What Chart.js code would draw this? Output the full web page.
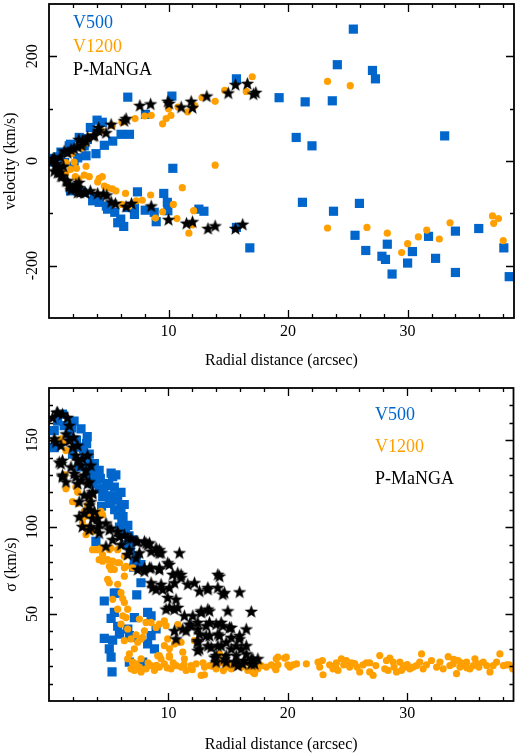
<!DOCTYPE html>
<html>
<head>
<meta charset="utf-8">
<script src="https://cdn.jsdelivr.net/npm/chart.js@4.4.0/dist/chart.umd.min.js"></script>
<style>
  html, body { margin: 0; padding: 0; background: #fff; overflow: hidden; }
  #wrap { position: relative; width: 515px; height: 754px; }
  canvas { position: absolute; left: 0; }
  #velChart { top: 0; }
  #sigChart { top: 376px; }
</style>
</head>
<body>
<div id="wrap">
  <canvas id="velChart" width="515" height="376"></canvas>
  <canvas id="sigChart" width="515" height="378"></canvas>
</div>
<script>
/* ===== DATA ===== */

const seriesNames = ['V500', 'V1200', 'P-MaNGA'];

const xRange = [0, 38.9];
const xTickLabels = [10, 20, 30];
const xMinorTicks = [2, 4, 6, 8, 12, 14, 16, 18, 22, 24, 26, 28, 32, 34, 36, 38];

const velRange = [-300, 300];
const velTickLabels = [-200, 0, 200];
const velMinorTicks = [-100, 100];

const sigRange = [0, 180];
const sigTickLabels = [50, 100, 150];
const sigMinorTicks = [10, 20, 30, 40, 60, 70, 80, 90, 110, 120, 130, 140, 160, 170];

// velocity panel: [radius, velocity]
const velV500 = [
  [0.2,-2],[0.44,5],[0.7,8],[1.0,17],[1.3,-3],[1.69,29],[1.8,32],[2.1,-10],[2.4,6],[2.53,45],
  [2.7,43],[2.95,29],[3.1,10],[3.2,41],[3.46,64],[3.93,14],[4.02,78],[4.46,74],[4.63,30],[5.33,38],
  [6.03,51],[6.73,51],[6.59,122],[8.07,89],[10.28,124],[10.36,-14],[15.68,157],
  [1.8,-57],[2.5,-57],[2.8,-60],[3.65,-76],[3.8,-70],[4.2,-79],[4.8,-86],[4.9,-92],[5.5,-98],
  [5.75,-118],[6.0,-111],[6.25,-125],[6.6,-89],[7.15,-86],[7.15,-102],[7.4,-59],[8.05,-94],[8.8,-98],
  [8.97,-116],[9.6,-62],[9.9,-79],[9.94,-95],[12.54,-92],[12.96,-96],[15.68,-127],[16.8,-166],
  [19.25,121],[20.68,45],[21.43,113],[22.0,29],[23.7,115],[24.12,184],[25.46,252],[27.06,173],
  [27.31,157],[33.1,48],
  [21.2,-79],[23.8,-96],[25.97,-81],[25.6,-142],[26.5,-171],[27.85,-182],[28.15,-188],[28.3,-159],
  [28.7,-216],[30.0,-195],[30.4,-173],[31.75,-144],[32.34,-186],[34.0,-134],[34.0,-213],[35.95,-129],
  [38.05,-166],[38.5,-221]
];

const velV1200 = [
  [1.4,-3],[1.9,14],[2.1,-2],[2.3,-14],[2.7,25],[3.1,35],[3.4,46],[4.35,58],[5.3,68],[6.1,74],
  [7.2,81],[8.0,86],[8.55,87],[9.5,71],[9.8,81],[10.0,100],[10.2,87],[10.8,103],[11.6,94],[12.2,106],
  [12.8,121],[13.9,114],[14.7,135],[16.5,133],[17.0,161],[13.9,-8],[23.3,152],[25.2,144],
  [1.8,-16],[3.1,-10],[1.4,-23],[2.2,-30],[2.5,-34],[2.95,-27],[3.37,-30],[4.07,-40],[4.2,-33],
  [4.46,-30],[4.63,-48],[4.9,-51],[5.3,-53],[5.6,-57],[6.4,-62],[6.1,-83],[6.7,-86],[7.3,-76],
  [7.8,-75],[8.5,-65],[8.9,-109],[9.5,-97],[10.4,-83],[10.7,-110],[11.15,-51],[12.1,-95],[12.0,-122],
  [11.7,-138],
  [23.3,-128],[26.6,-127],[28.3,-138],[29.5,-175],[30.0,-158],[30.9,-145],[31.6,-132],[32.65,-149],
  [33.55,-118],[37.1,-105],[37.2,-119],[37.6,-110],[38.0,-152]
];

const velPManga = [
  [0.3,3],[0.44,5],[0.94,8],[1.27,19],[1.55,16],[1.84,22],[2.1,24],[2.4,27],[2.5,41],[2.75,30],
  [2.8,38],[3.1,38],[3.23,46],[3.7,48],[3.8,49],[4.15,58],[4.15,64],[4.77,54],[5.2,70],[6.3,77],
  [6.45,81],[7.6,106],[8.5,109],[9.94,114],[10.05,110],[11.06,103],[11.9,114],[12.0,102],[13.2,124],
  [15.0,130],[15.6,146],[16.6,148],[17.1,128],[17.3,131],
  [0.2,0],[0.6,-5],[0.9,-15],[1.2,-10],[0.58,-10],[0.72,-22],[0.44,-19],[0.86,-22],[1.0,-29],
  [1.13,-29],[1.42,-38],[1.55,-38],[1.7,-46],[1.7,-48],[2.25,-44],[2.25,-51],[2.5,-41],[2.5,-51],
  [1.84,-55],[2.4,-60],[2.6,-60],[2.95,-60],[3.04,-60],[3.46,-57],[4.07,-62],[4.55,-63],[4.83,-65],
  [5.2,-78],[5.55,-81],[6.45,-87],[6.9,-81],[8.55,-86],[10.0,-112],[11.5,-119],[12.0,-116],
  [13.3,-129],[13.9,-124],[15.6,-129],[16.2,-121]
];

// dispersion panel: [radius, sigma]
const sigV500 = [
  [0.44,155.5],[0.44,145.7],[0.72,161],[1.13,165],[1.27,158.4],[1.7,152.7],[1.97,142],[2.1,161],
  [2.53,134.6],[2.68,156.5],[3.0,140],[3.15,148],[3.37,142],[3.5,128],[3.6,131],[3.8,136.5],
  [4.0,127],[4.2,132.7],[4.2,122],[4.5,117.5],[4.77,125],[5.05,113.7],[5.2,131],[5.33,129],
  [5.47,123],[5.6,118],[5.6,130],[5.75,115.6],[5.9,100],[6.03,110.8],[6.03,120],[6.2,106],
  [6.3,113],[6.4,96],[6.6,101],[6.5,90],[6.8,88],[7.0,92.7],[7.1,77],[7.3,83],[7.15,80],[7.7,78.5],
  [2.3,150],[2.9,145],[3.3,136],[3.9,131],[4.3,128],[4.6,120],[4.9,118],[5.2,115],[5.5,110],
  [5.8,107],[6.1,103],[6.7,95],[5.0,124],[4.4,112],[3.6,125],[2.6,146],[3.2,152],[1.9,157],
  [3.93,91.8],[7.7,68],[5.47,62],[5.6,62],[7.35,61],[4.63,57.5],[5.47,51],[5.2,47.5],[5.75,43],
  [5.9,38.5],[6.6,41.4],[6.73,37.6],[7.15,48],[8.26,51],[8.55,49],[8.97,41.4],[8.55,37.6],
  [8.26,32.8],[8.83,30],[7.0,36.6],[4.63,36],[5.33,35],[5.05,30],[5.2,25.2],[6.73,22.4],
  [7.85,22.4],[5.28,16.7]
];

const sigV1200 = [
  [1.0,150.8],[1.27,148.9],[1.42,144],[1.33,130],[1.42,122],[2.25,123],[2.4,120],[1.97,114.6],
  [2.4,113.7],[2.95,109],[3.23,107],[3.23,112.7],[2.8,103],[3.1,99.4],[3.65,97.5],[3.1,95.6],
  [3.37,117.5],[2.95,106],[3.23,100],[3.93,106],[4.2,108],[4.35,109],[4.49,107],[3.65,87],
  [3.93,87],[4.2,87],[4.35,88],[4.49,84],[5.05,87],[5.19,88],[5.75,87],[4.49,80.4],[5.33,80.4],
  [5.75,79.5],[6.45,77.5],[4.49,81.3],[5.19,78.5],[5.47,75.6],[6.31,83.2],[7.0,76.6],[4.2,81.3],
  [5.05,77.5],[5.9,79.5],[6.31,76.6],[4.91,69.9],[5.05,68],[5.75,67.1],[6.31,71.8],[6.03,62.3],
  [6.17,58.9],[6.31,56.6],[5.33,58.5],[5.75,52.8],[6.59,52.8],[6.17,49],[6.45,48],[6.03,44.2],
  [6.59,41.4],[6.31,34.7],[6.87,35.7],[7.29,38],[7.43,33.8],[7.15,30],[7.85,36.6],[7.99,40.4],
  [8.13,45.2],[7.57,47.1],[8.55,45.2],[8.97,42.3],[9.24,44.2],[9.66,46.1],[9.8,43.3],[9.94,35.7],
  [9.66,31.8],[10.08,30],[10.78,33.8],[11.06,33.8],[11.2,28.1],[11.34,24.3],[10.08,26.1],[9.24,26.1],
  [9.38,24.3],[6.73,27.1],[7.29,21.4],[6.59,24.3],[7.71,24.3],[12.18,34.7],[10.78,44],[9.1,26],
  [10.08,25.2],[14.28,27.1],[7.71,35.7],[10.5,32.8],[7.0,22.4],[7.57,19.5],[7.15,17.6],[13.02,15.1],
  [17.07,16.7],[4.91,81.3],[5.19,75.6],
  [6.87,18.5],[7.29,20.4],[7.71,16.7],[8.13,18.5],[8.55,20.4],[8.83,17.6],[9.24,19.5],[9.66,21.4],
  [10.22,18.5],[10.65,20.4],[11.07,19.5],[11.48,17.6],[11.9,20.4],[12.32,21.4],[12.74,14.7],
  [13.02,19.5],[13.44,20.4],[14.0,18.5],[14.42,22.0],[14.84,19.5],[15.26,18.5],[15.68,20.4],
  [16.1,19.5],[16.65,17.6],[17.21,15.7],[17.77,20.4],[18.2,19.5],[18.62,20.8],[7.0,22],[7.5,19],
  [8.3,22],[9.0,20.5],[9.9,19],[10.4,22],[11.3,21],[12.0,18],[12.9,22],[13.7,20],[14.6,17.5],
  [15.0,21],[16.3,21.5],[17.0,20],[17.5,18.5],
  [18.89,19.5],[19.17,20.8],[19.0,18.0],[19.03,24.3],[19.17,25.2],[19.73,24.7],[19.87,25.2],
  [20.0,20.8],[20.17,19.5],[20.45,20.8],[20.73,21.4],[21.55,21.4],[22.53,22.4],[22.67,19.5],
  [22.95,15.1],[22.89,23.3],[23.5,20.8],[23.78,18.5],[24.07,22.0],[24.2,17.6],[24.49,24.3],
  [24.68,20.8],[24.9,23.3],[25.18,19.5],[25.32,22.0],[25.8,19.5],[26.02,16.7],[26.3,20.8],
  [26.58,22.0],[26.86,16.7],[26.86,22.0],[27.14,14.7],[27.37,20.4],[27.7,26.1],[28.12,18.5],
  [28.26,23.3],[28.4,17.6],[28.54,24.7],[28.82,22.4],[29.1,16.7],[29.38,22.4],[29.52,17.6],
  [29.66,20.4],[29.94,19.5],[30.22,18.5],[30.5,19.5],[30.78,20.4],[31.05,22.4],[31.2,27.1],
  [31.33,18.5],[31.61,20.8],[32.03,23.3],[32.46,19.5],[32.74,22.4],[33.01,18.5],[33.43,25.5],
  [33.57,20.4],[33.85,21.4],[34.13,15.7],[34.27,23.3],[34.41,19.5],[34.69,20.4],[34.97,22.4],
  [35.25,18.5],[35.53,20.4],[35.67,24.3],[35.94,21.4],[36.37,22.4],[36.65,20.4],[36.93,16.7],
  [37.2,20.4],[37.48,22.4],[37.76,27.1],[38.05,20.4],[38.33,20.8],[38.55,20.8],[38.83,18.5],
  [30.0,21.0],[34.5,22],[35.0,19.0],[33.9,24.0],[28.9,19.5],[25.6,21.5],[24.0,19.5],[36.0,19.5]
];

const sigPManga = [
  [0.72,166],[0.3,163],[1.13,165],[1.55,163],[1.7,158.4],[1.42,153.6],[1.7,149.8],[0.58,148.9],
  [1.0,147],[1.97,146],[1.13,138.4],[1.0,136.5],[1.84,134.6],[2.4,138.4],[2.8,139.4],[3.1,132.7],
  [1.13,128.9],[1.42,126],[2.25,128.9],[2.68,127],[3.23,125],[3.65,119.4],[2.53,114.6],[3.5,114.6],
  [3.37,109.9],[2.53,106],[2.95,108],[2.8,100.3],[3.65,105],[4.2,102],[3.37,98.5],[4.2,96.6],
  [5.05,98.5],[5.9,94.6],[6.59,93.7],[7.29,91.8],[8.13,90.8],[8.97,88],[9.24,85.2],[10.92,85.2],
  [9.94,79.5],[6.73,87],[7.57,85.2],[5.33,92.8],[4.77,89],
  [0.66,166],[2.06,151.7],[0.44,150.8],[2.4,147],[2.25,141.3],[3.23,141.3],[0.86,137.4],[2.68,135.6],
  [3.5,135.6],[1.13,129.9],[2.11,130.8],[2.95,129.9],[2.4,125],[3.37,126],[2.95,118.4],[3.37,118.4],
  [3.65,120.3],[3.37,112.7],[3.8,108.9],[4.07,105],[3.5,100.3],[4.07,99.4],[4.77,102.3],[5.19,99.4],
  [5.75,97.5],[6.31,95.6],[6.87,93.7],[7.43,91.8],[7.99,91.8],[8.27,89.9],[8.55,86.1],[9.1,86.1],
  [6.03,89.9],[6.59,84.2],[7.29,82.3],[7.99,76.6],[8.55,76.6],[9.24,76.6],
  [8.41,90.9],[9.24,87],[9.39,85.2],[10.08,78.5],[7.99,74.7],[8.41,76.6],[9.24,75.6],[10.36,72.8],
  [10.78,73.7],[11.06,70.9],[11.62,67.1],[12.18,68],[13.3,65.2],[14.14,65.2],[14.28,71.8],[14.56,61.4],
  [15.96,62.7],[8.68,65.2],[9.52,64.2],[9.94,59.5],[10.64,58.5],[10.08,53.8],[10.78,53.8],[12.74,51.8],
  [13.3,52.8],[14.98,51.8],[16.94,51.5],[12.04,49],[11.2,41.4],[11.76,44.2],[12.46,45.2],[13.16,43.3],
  [14.0,44.2],[14.56,43.3],[15.12,42.3],[15.96,37.6],[16.52,41.4],[12.6,38.5],[13.44,37.6],[14.28,37.6],
  [12.46,33.8],[13.3,31.8],[14.14,31.8],[14.84,33.8],[15.68,31.8],[16.52,31.8],[12.46,29],[14.0,26.1],
  [14.84,26.1],[15.68,26.1],[16.52,27.1],[14.0,22.4],[14.84,22.4],[15.68,22.4],[16.23,21.4],[17.07,24.3],
  [17.21,21.4],[10.64,35.7],
  [7.43,75.6],[8.55,68],[8.97,64.2],[9.39,67.1],[10.08,65.2],[10.5,68],[11.06,72.8],[12.6,63.2],
  [13.3,64.2],[14.14,72.8],[14.7,62.3],[9.8,52.8],[10.5,52.8],[11.34,49],[12.74,50.9],[13.44,51.8],
  [11.9,43.3],[10.5,40.4],[11.48,40.4],[12.46,41.4],[13.44,45.2],[14.42,45.2],[15.26,42.3],[12.46,34.7],
  [13.16,37.6],[14.14,38.5],[15.26,36.6],[15.96,35.7],[12.6,30],[13.58,30.9],[14.42,31.8],[15.26,30],
  [16.1,30],[13.86,25.2],[14.7,24.3],[15.54,22.4],[16.38,23.3],[16.94,24.3],[17.49,24.3],[15.82,20.4],
  [16.94,21.4]
];

/* ===== STYLE ===== */

const FONT = '"Liberation Serif", "DejaVu Serif", serif';
const BLUE = '#0066cc';
const ORANGE = '#ffa000';

Chart.defaults.font.family = FONT;
Chart.defaults.font.size = 16;
Chart.defaults.color = '#000';

// filled five-point star used as marker
const starImg = document.createElement('canvas');
starImg.width = 15;
starImg.height = 15;
(function() {
  const c = starImg.getContext('2d');
  c.beginPath();
  for (let i = 0; i < 10; i++) {
    const r = i % 2 === 0 ? 6.6 : 2.8;
    const a = -Math.PI / 2 + i * Math.PI / 5;
    const px = 7.5 + r * Math.cos(a);
    const py = 8 + r * Math.sin(a);
    if (i === 0) c.moveTo(px, py); else c.lineTo(px, py);
  }
  c.closePath();
  c.fillStyle = '#000';
  c.fill();
  c.strokeStyle = 'rgba(0,0,0,0.35)';
  c.lineWidth = 1;
  c.stroke();
})();

const toPts = arr => arr.map(([x, y]) => ({ x, y }));

// frame, inward ticks on all four sides, and the text legend
const framePlugin = {
  id: 'frame',
  afterDraw(chart, args, opts) {
    const { ctx, chartArea: a, scales: { x, y } } = chart;
    ctx.save();
    ctx.strokeStyle = '#000';
    ctx.lineWidth = 1.3;
    const xTick = (v, len) => {
      const p = Math.round(x.getPixelForValue(v)) + 0.5;
      ctx.moveTo(p, a.bottom); ctx.lineTo(p, a.bottom - len);
      ctx.moveTo(p, a.top); ctx.lineTo(p, a.top + len);
    };
    const yTick = (v, len) => {
      const p = Math.round(y.getPixelForValue(v)) + 0.5;
      ctx.moveTo(a.left, p); ctx.lineTo(a.left + len, p);
      ctx.moveTo(a.right, p); ctx.lineTo(a.right - len, p);
    };
    ctx.beginPath();
    xTickLabels.forEach(v => xTick(v, 8));
    xMinorTicks.forEach(v => xTick(v, 4));
    opts.yMajor.forEach(v => yTick(v, 8));
    opts.yMinor.forEach(v => yTick(v, 4));
    ctx.stroke();

    ctx.lineWidth = 1.8;
    ctx.strokeRect(a.left, a.top, a.right - a.left, a.bottom - a.top);

    ctx.font = '18px ' + FONT;
    ctx.textBaseline = 'alphabetic';
    ctx.textAlign = 'left';
    const order = [2, 1, 0];
    order.forEach((di, i) => {
      const ds = chart.data.datasets[di];
      ctx.fillStyle = ds.textColor;
      ctx.fillText(ds.label, opts.legendX, opts.legendY + i * opts.legendStep);
    });
    ctx.restore();
  }
};

function makePanel(id, sets, yRange, yLabels, yMinor, yTitle, lay) {
  return new Chart(document.getElementById(id), {
    type: 'scatter',
    data: {
      datasets: [
        {
          label: seriesNames[2], data: toPts(sets[2]), order: 1,
          pointStyle: starImg, textColor: '#000'
        },
        {
          label: seriesNames[1], data: toPts(sets[1]), order: 2,
          pointStyle: 'circle', pointRadius: 3.6, backgroundColor: ORANGE,
          borderWidth: 0, pointBorderWidth: 0, textColor: ORANGE
        },
        {
          label: seriesNames[0], data: toPts(sets[0]), order: 3,
          pointStyle: 'rect', pointRadius: 6.5, backgroundColor: BLUE,
          borderWidth: 0, pointBorderWidth: 0, textColor: BLUE
        }
      ]
    },
    options: {
      responsive: false,
      animation: false,
      devicePixelRatio: 1,
      layout: {
        autoPadding: false,
        padding: { top: lay.top, right: lay.right, left: 0, bottom: 0 }
      },
      plugins: {
        legend: { display: false },
        tooltip: { enabled: false },
        frame: {
          yMajor: yLabels, yMinor: yMinor,
          legendX: lay.legendX, legendY: lay.legendY, legendStep: lay.legendStep
        }
      },
      scales: {
        x: {
          type: 'linear', min: xRange[0], max: xRange[1],
          grid: { display: false, drawTicks: false },
          border: { display: false },
          afterBuildTicks: s => { s.ticks = xTickLabels.map(v => ({ value: v })); },
          afterFit: s => {
            s.height = lay.xHeight;
            s.paddingLeft = 0; s.paddingRight = 0;
          },
          ticks: { padding: lay.xTickPad, maxRotation: 0, autoSkip: false, font: { size: 16 } },
          title: {
            display: true, text: 'Radial distance (arcsec)',
            font: { size: 16 }, padding: { top: 0, bottom: lay.xTitlePad }
          }
        },
        y: {
          type: 'linear', min: yRange[0], max: yRange[1],
          grid: { display: false, drawTicks: false },
          border: { display: false },
          afterBuildTicks: s => { s.ticks = yLabels.map(v => ({ value: v })); },
          afterFit: s => {
            s.width = 49;
            s.paddingTop = 0; s.paddingBottom = 0;
          },
          ticks: {
            minRotation: 90, maxRotation: 90, crossAlign: 'center',
            padding: lay.yTickPad, autoSkip: false, font: { size: 16 }
          },
          title: {
            display: true, text: yTitle,
            font: { size: 16 }, padding: { top: lay.yTitlePad, bottom: 0 }
          }
        }
      }
    },
    plugins: [framePlugin]
  });
}

makePanel('velChart', [velV500, velV1200, velPManga], velRange, velTickLabels, velMinorTicks,
  'velocity (km/s)',
  { top: 4, right: 1, xHeight: 58, xTickPad: 4, xTitlePad: 6, yTickPad: 2, yTitlePad: 1,
    legendX: 73, legendY: 28, legendStep: 23.5 });

// trailing spaces push the centred title a little lower, as in the original
makePanel('sigChart', [sigV500, sigV1200, sigPManga], sigRange, sigTickLabels, sigMinorTicks,
  'σ (km/s)          ',
  { top: 12, right: 1.5, xHeight: 53, xTickPad: 3, xTitlePad: 0, yTickPad: 4, yTitlePad: 2,
    legendX: 375, legendY: 420 - 376, legendStep: 32 });
</script>
</body>
</html>
